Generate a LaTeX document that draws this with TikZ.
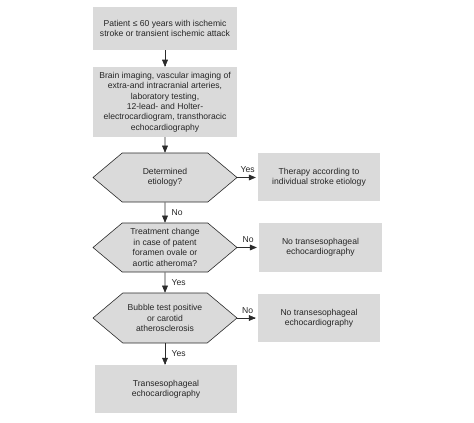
\documentclass[tikz,border=0pt]{standalone}
\usepackage{fontspec}
\setmainfont{Liberation Sans}
\usetikzlibrary{arrows}
\usetikzlibrary{shapes.geometric, shapes.symbols, positioning, calc}
\usepackage{xcolor}
\definecolor{boxgray}{HTML}{DADADA}
\definecolor{linegray}{HTML}{2B2B2B}

\begin{document}
\begin{tikzpicture}[x=1pt, y=-1pt,
    font=\fontsize{8.6}{10.4}\selectfont, text=black!85,
    stepbox/.style={fill=boxgray, align=center, inner sep=0pt, minimum width=144pt},
    sidebox/.style={fill=boxgray, align=center, inner sep=0pt, minimum width=122pt, minimum height=48pt},
    decision/.style={signal, signal to=west and east, signal pointer angle=80,
        draw=linegray, line width=0.6pt, fill=boxgray, align=center, inner sep=0pt,
        minimum width=144pt, minimum height=49pt},
    flow/.style={draw=linegray, line width=0.6pt, -triangle 45}]
      \useasboundingbox (0, 0) rectangle (474, 423);

      \node[stepbox, minimum height=43pt] (patient) at (165, 28.5)
            {Patient ≤ 60 years with ischemic\\stroke or transient ischemic attack};
      \node[stepbox, minimum height=70pt] (workup) at (165, 102)
            {Brain imaging, vascular imaging of\\extra-and intracranial arteries,\\laboratory testing,\\12-lead- and Holter-\\electrocardiogram, transthoracic\\echocardiography};

      \node[decision] (etiology) at (165, 177.5) {Determined\\etiology?};
      \node[sidebox] (therapy) at (319, 177) {Therapy according to\\individual stroke etiology};

      \node[decision] (pfo) at (165, 247.5)
            {Treatment change\\in case of patent\\foramen ovale or\\aortic atheroma?};
      \node[sidebox, minimum width=123pt, minimum height=49pt] (notee1) at (320.5, 247.5)
            {No transesophageal\\echocardiography};

      \node[decision, minimum height=50pt] (bubble) at (165, 318)
            {Bubble test positive\\or carotid\\atherosclerosis};
      \node[sidebox] (notee2) at (319, 318) {No transesophageal\\echocardiography};

      \node[stepbox, minimum width=142pt, minimum height=48pt] (tee) at (166, 389)
            {Transesophageal\\echocardiography};

      % main column
      \draw[flow] (patient) -- (workup);
      \draw[flow] (workup) -- (etiology);
      \draw[flow] (etiology) -- node[right, xshift=3pt] {No} (pfo);
      \draw[flow] (pfo) -- node[right, xshift=3pt] {Yes} (bubble);
      \draw[flow] (bubble.south) -- node[right, xshift=3pt] {Yes} (bubble.south |- tee.north);

      % side branches
      \draw[flow, shorten >=2pt] (etiology.east) -- node[above, yshift=1pt] {Yes} (therapy.west |- etiology.east);
      \draw[flow, shorten >=2pt] (pfo.east) -- node[above, yshift=1pt] {No} (notee1.west |- pfo.east);
      \draw[flow, shorten >=2pt] (bubble.east) -- node[above, yshift=1pt] {No} (notee2.west |- bubble.east);

    \end{tikzpicture}
\end{document}
